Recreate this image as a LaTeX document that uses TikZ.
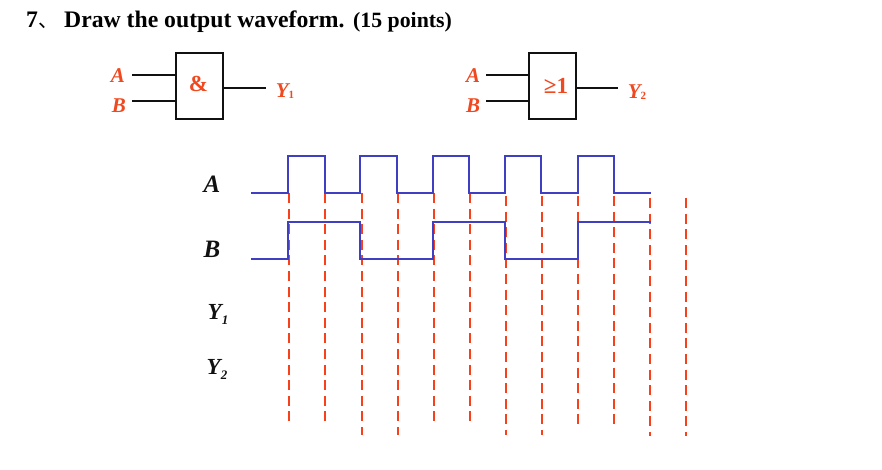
\documentclass[tikz,border=0pt]{standalone}
\usepackage{fontspec}
\setmainfont{Liberation Serif}
\newfontfamily\cjkfont{Noto Sans CJK SC}
\definecolor{lab}{HTML}{F0481F}
\definecolor{wave}{HTML}{3F3FC4}
\definecolor{dashc}{HTML}{F8401A}
\definecolor{ink}{HTML}{111111}
\tikzset{
  x=1pt,y=-1pt,
  gatebox/.style={draw=ink,line width=2pt,fill=white,minimum width=47pt,minimum height=66pt,inner sep=0pt},
  wire/.style={draw=ink,line width=2pt},
  gatelab/.style={text=lab,font=\bfseries\itshape\fontsize{21}{21}\selectfont,inner sep=0pt},
  gatesym/.style={text=lab,font=\bfseries\fontsize{23}{23}\selectfont,inner sep=0pt},
  siglab/.style={text=ink,font=\bfseries\itshape\fontsize{25}{25}\selectfont,inner sep=0pt},
  wf/.style={draw=wave,line width=2.5pt,line join=miter},
  guide/.style={draw=dashc,line width=2.5pt,dash pattern=on 10pt off 5.6pt},
  titlet/.style={text=black,inner sep=0pt,anchor=base west}
}
\begin{document}
\begin{tikzpicture}
\useasboundingbox[fill=white] (0,0) rectangle (882,470);
\node[titlet,font=\bfseries\fontsize{23.7}{24}\selectfont] (tn) at (26,28) {7};
\node[titlet,font=\cjkfont\fontsize{20}{20}\selectfont] (tc) at (38,28) {、};
\node[titlet,font=\bfseries\fontsize{23.7}{24}\selectfont] (tm) at (64,28) {Draw the output waveform.};
\node[titlet,font=\bfseries\fontsize{21.8}{22}\selectfont] (tp) at (353,28) {(15 points)};
% gate 1
\node[gatebox] (g1) at (199,86) {};
\node[gatesym] (g1s) at (198.5,84) {\&};
\node[gatelab] (a1) at (118,76) {A};
\node[gatelab] (b1) at (119,106) {B};
\node[gatelab] (y1) at (285,91) {Y\raisebox{-1pt}{\fontsize{11}{11}\selectfont\upshape 1}};
\coordinate (a1w) at (132,75);
\coordinate (b1w) at (132,101);
\coordinate (y1w) at (266,88);
\draw[wire] (a1w) -- (a1w -| g1.west);
\draw[wire] (b1w) -- (b1w -| g1.west);
\draw[wire] (g1.east |- y1w) -- (y1w);
% gate 2
\node[gatebox] (g2) at (552,86) {};
\node[gatesym] (g2s) at (556,86) {≥1};
\node[gatelab] (a2) at (473,76) {A};
\node[gatelab] (b2) at (473,106) {B};
\node[gatelab] (y2) at (637,92) {Y\raisebox{-1pt}{\fontsize{11}{11}\selectfont\upshape 2}};
\coordinate (a2w) at (486,75);
\coordinate (b2w) at (486,101);
\coordinate (y2w) at (618,88);
\draw[wire] (a2w) -- (a2w -| g2.west);
\draw[wire] (b2w) -- (b2w -| g2.west);
\draw[wire] (g2.east |- y2w) -- (y2w);
% signal labels
\node[siglab] (sa) at (212,184) {A};
\node[siglab] (sb) at (212,249) {B};
\node[siglab,font=\bfseries\itshape\fontsize{23}{23}\selectfont] (sy1) at (218,314) {Y\raisebox{-5pt}{\fontsize{13}{13}\selectfont 1}};
\node[siglab,font=\bfseries\itshape\fontsize{23}{23}\selectfont] (sy2) at (217,369) {Y\raisebox{-5pt}{\fontsize{13}{13}\selectfont 2}};
% guides
\foreach \x/\t/\b in {289/193/425,325/193/425,362/193/435,398/193/435,434/193/425,470/193/425,506/196/435,542/196/435,578/196/427,614/196/427,650/198/436,686/198/436}{
  \draw[guide] (\x,\t) -- (\x,\b);
}
% waveforms
\draw[wf] (251,193) -| (288,156) -| (325,193) -| (360,156) -| (397,193) -| (433,156) -| (469,193) -| (505,156) -| (541,193) -| (578,156) -| (614,193) -- (651,193);
\draw[wf] (251,259) -| (288,222) -| (360,259) -| (433,222) -| (505,259) -| (578,222) -- (651,222);
\end{tikzpicture}
\end{document}
